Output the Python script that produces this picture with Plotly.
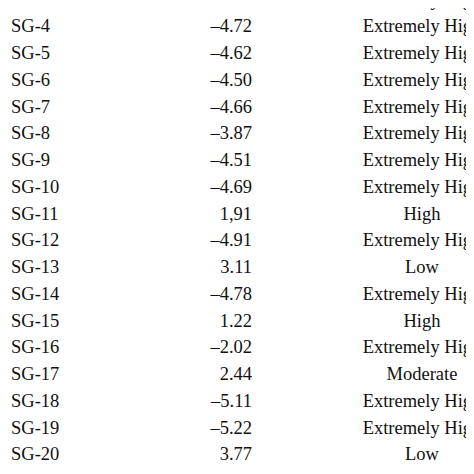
import plotly.graph_objects as go

samples = ["SG-3","SG-4","SG-5","SG-6","SG-7","SG-8","SG-9","SG-10","SG-11","SG-12",
           "SG-13","SG-14","SG-15","SG-16","SG-17","SG-18","SG-19","SG-20","SG-21"]
values = ["–4.80","–4.72","–4.62","–4.50","–4.66","–3.87","–4.51","–4.69","1,91","–4.91",
          "3.11","–4.78","1.22","–2.02","2.44","–5.11","–5.22","3.77","2.61"]
classes = ["Extremely High","Extremely High","Extremely High","Extremely High","Extremely High",
           "Extremely High","Extremely High","Extremely High","High","Extremely High",
           "Low","Extremely High","High","Extremely High","Moderate","Extremely High",
           "Extremely High","Low","Moderate"]

rows = list(range(len(samples)))
font = dict(family="Liberation Serif", size=18.5, color="#111")
fig = go.Figure()
fig.add_trace(go.Scatter(x=[3]*len(rows), y=rows, text=samples, mode="text",
                         textposition="middle right", textfont=font, hoverinfo="skip"))
fig.add_trace(go.Scatter(x=[244]*len(rows), y=rows, text=values, mode="text",
                         textposition="middle left", textfont=font, hoverinfo="skip"))
fig.add_trace(go.Scatter(x=[414]*len(rows), y=rows, text=classes, mode="text",
                         textposition="middle center", textfont=font, hoverinfo="skip"))
fig.update_layout(width=474, height=474, margin=dict(l=0, r=0, t=0, b=0),
                  paper_bgcolor="white", plot_bgcolor="white", showlegend=False,
                  xaxis=dict(range=[0, 474], visible=False, fixedrange=True),
                  yaxis=dict(range=[17.98, 0.262], visible=False, fixedrange=True))
fig.write_html("out.html", config={"displayModeBar": False})
